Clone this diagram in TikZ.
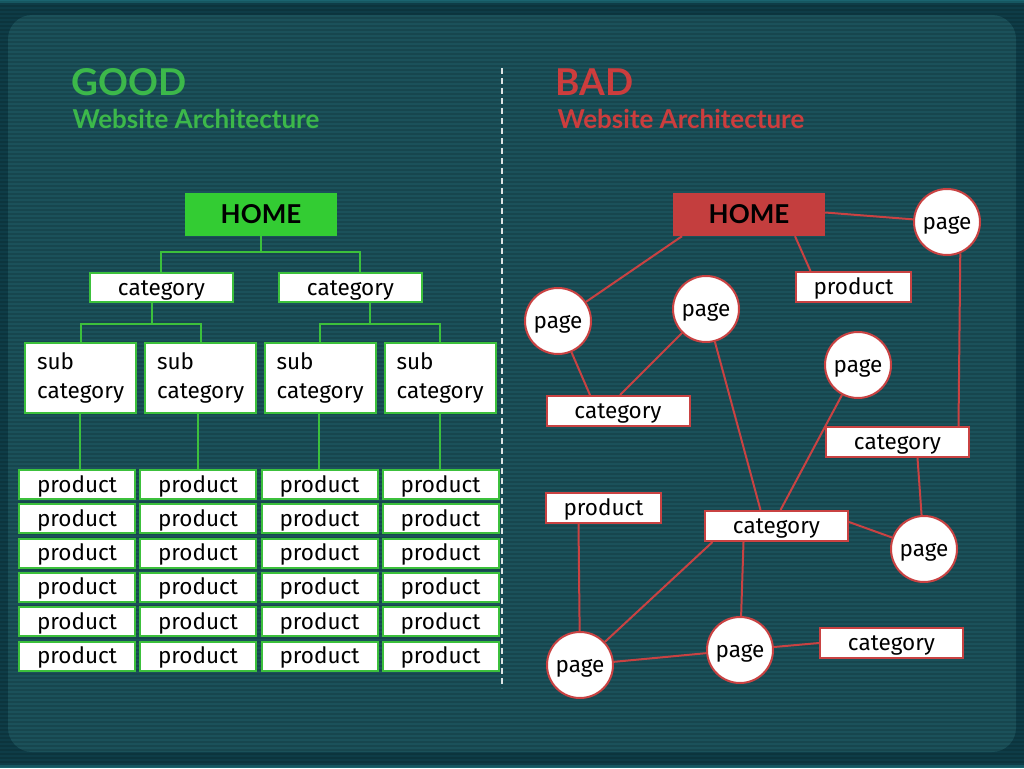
\documentclass[tikz,border=0pt]{standalone}
\usepackage{fontspec}
\setmainfont{Fira Sans}
\newfontfamily\latofont{Lato}
\definecolor{outerbg}{HTML}{0E3C47}
\definecolor{edgebg}{HTML}{1A6470}
\definecolor{panelbg}{HTML}{1B515A}
\definecolor{gtitle}{HTML}{3CB84A}
\definecolor{gfill}{HTML}{33CC33}
\definecolor{gborder}{HTML}{3CC03C}
\definecolor{rtitle}{HTML}{CC3D3D}
\definecolor{rfill}{HTML}{C43E3E}
\definecolor{rborder}{HTML}{C94242}
\tikzset{
  txt/.style={font=\fontsize{22.5}{26}\selectfont, text=black, text height=15pt, text depth=0pt},
  gbox/.style={txt, draw=gborder, line width=2pt, fill=white, inner sep=0pt},
  gprod/.style={gbox, minimum width=116, minimum height=29},
  gcat/.style={gbox, minimum width=143, minimum height=29},
  gsub/.style={gbox, font=\fontsize{22.5}{29.5}\selectfont, text height=, text depth=, text width=87, inner xsep=12, minimum height=70, align=left},
  gline/.style={draw=gborder, line width=2pt},
  rbox/.style={txt, draw=rborder, line width=2pt, fill=white, inner sep=0pt, minimum height=30},
  rprod/.style={rbox, minimum width=115},
  rcat/.style={rbox, minimum width=143},
  rpage/.style={txt, circle, draw=rborder, line width=2pt, fill=white, minimum size=66, inner sep=0pt},
  rline/.style={draw=rborder, line width=2pt},
  homebox/.style={font=\latofont\bfseries\fontsize{26}{30}\selectfont, text=black, minimum width=152, minimum height=43, inner sep=0pt},
  title/.style={font=\latofont\bfseries\fontsize{37}{40}\selectfont, anchor=base west},
  subtitle/.style={font=\latofont\bfseries\fontsize{26}{30}\selectfont, anchor=base west},
  stripe/.style={line width=1.5pt, draw=black, opacity=0.13}
}
\begin{document}
\begin{tikzpicture}[x=1pt,y=-1pt]
\useasboundingbox (0,0) rectangle (1024,768);
% background
\fill[outerbg] (0,0) rectangle (1024,768);
\fill[edgebg] (0,0) rectangle (1024,3);
\fill[edgebg] (0,765) rectangle (1024,768);
\fill[panelbg, rounded corners=24pt] (8,15) rectangle (1016,752);
\foreach \y in {2,6,...,766} \draw[stripe] (0,\y) -- (1024,\y);
% divider
\draw[white, opacity=0.85, line width=1.5pt, dash pattern=on 6pt off 4pt] (502,68) -- (502,688);

% titles
\node[title, text=gtitle] (gt) at (68,95) {GOOD};
\node[subtitle, text=gtitle] (gst) at (69,128) {Website Architecture};
\node[title, text=rtitle] (rt) at (552,95) {BAD};
\node[subtitle, text=rtitle] (rst) at (554,128) {Website Architecture};

% ---------- GOOD tree ----------
\node[homebox, fill=gfill] (GH) at (261,214.5) {HOME};
\node[gcat] (GC1) at (161.5,287.5) {category};
\node[gcat] (GC2) at (350.5,287.5) {category};
\node[gsub] (S1) at (80.5,378) {sub\\category};
\node[gsub] (S2) at (200.5,378) {sub\\category};
\node[gsub] (S3) at (320,378) {sub\\category};
\node[gsub] (S4) at (440,378) {sub\\category};
\foreach \c/\x in {1/77,2/198,3/319.5,4/440.5}{
  \foreach \r in {1,...,6}{
    \node[gprod] (P\c\r) at (\x,{484.5+(\r-1)*34.3}) {product};
  }
}
\draw[gline] (GH.south) -- ++(0,17);
\draw[gline] ([xshift=-1]GC1.north) -- ++(0,-20) -| ([xshift=9]GC2.north);
\draw[gline] ([xshift=-10]GC1.south) -- ++(0,22);
\draw[gline] ([xshift=19]GC2.south) -- ++(0,22);
\draw[gline] (S1.north) -- ++(0,-18) -| (S2.north);
\draw[gline] (S3.north) -- ++(0,-18) -| (S4.north);
\draw[gline] ([xshift=-0.5]S1.south) -- ([xshift=-0.5]S1.south |- P11.north);
\draw[gline] ([xshift=-2.5]S2.south) -- ([xshift=-2.5]S2.south |- P21.north);
\draw[gline] ([xshift=-1]S3.south) -- ([xshift=-1]S3.south |- P31.north);
\draw[gline] (S4.south) -- (S4.south |- P41.north);

% ---------- BAD graph ----------
\node[homebox, fill=rfill] (RH) at (749,214.5) {HOME};
\node[rpage] (Q1) at (947,222) {page};
\node[rpage] (Q2) at (558,321) {page};
\node[rpage] (Q3) at (706,309) {page};
\node[rpage] (Q4) at (858,365) {page};
\node[rpage] (Q5) at (924,549) {page};
\node[rpage] (Q6) at (580,665) {page};
\node[rpage] (Q7) at (740,650) {page};
\node[rprod] (R1) at (853.5,287) {product};
\node[rprod] (R2) at (603.5,507.5) {product};
\node[rcat] (C1) at (618,411) {category};
\node[rcat] (C2) at (897.5,442) {category};
\node[rcat] (C3) at (776.5,526) {category};
\node[rcat] (C4) at (891.5,643) {category};

\draw[rline] ([yshift=2]RH.east) -- (Q1);
\draw[rline] ([xshift=46]RH.south) -- ([xshift=-43]R1.north);
\draw[rline] ([xshift=-67]RH.south) -- (Q2);
\draw[rline] ([xshift=-28]C1.north) -- (Q2);
\draw[rline] ([xshift=2]C1.north) -- (Q3);
\draw[rline] ([xshift=-16]C3.north) -- (Q3);
\draw[rline] ([xshift=4]C3.north) -- (Q4);
\draw[rline] ([xshift=61]C2.north) -- (Q1.-67);
\draw[rline] ([xshift=20]C2.south) -- (Q5);
\draw[rline] ([yshift=4]C3.east) -- (Q5);
\draw[rline] ([xshift=-25]R2.south) -- (Q6);
\draw[rline] ([xshift=-64]C3.south) -- (Q6);
\draw[rline] ([xshift=-33]C3.south) -- (Q7);
\draw[rline] (Q6) -- (Q7);
\draw[rline] (Q7) -- (C4.west);
\end{tikzpicture}
\end{document}
